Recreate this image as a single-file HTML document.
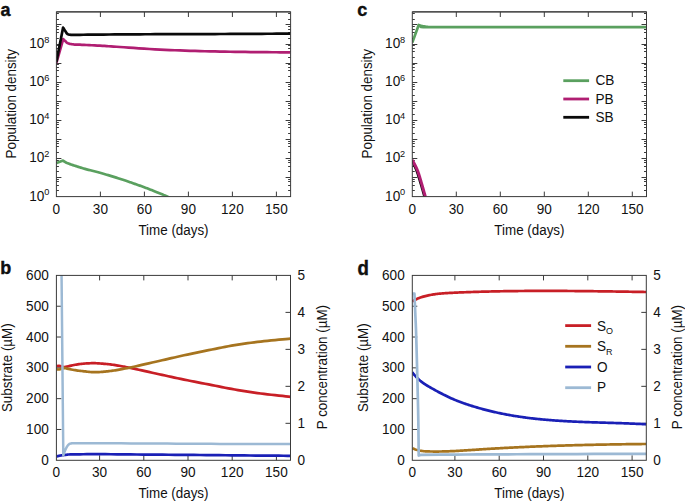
<!DOCTYPE html>
<html><head><meta charset="utf-8"><style>
html,body{margin:0;padding:0;background:#fff;}
body{width:685px;height:501px;overflow:hidden;}
svg{display:block;}
text{font-family:"Liberation Sans", sans-serif;fill:#111;}
</style></head><body>
<svg width="685" height="501" viewBox="0 0 685 501">
<rect width="685" height="501" fill="#fff"/>
<defs>
<clipPath id="clipa"><rect x="56.4" y="12" width="234.2" height="184.6"/></clipPath>
<clipPath id="clipc"><rect x="412.3" y="12" width="234.2" height="184.6"/></clipPath>
<clipPath id="clipb"><rect x="56.4" y="275.4" width="234.1" height="184.9"/></clipPath>
<clipPath id="clipd"><rect x="412.3" y="275.4" width="234" height="184.9"/></clipPath>
</defs>
<text transform="translate(56.4,213.5) scale(1,1.05)" font-size="13.6" text-anchor="middle">0</text>
<line x1="100.4" y1="196.6" x2="100.4" y2="191.6" stroke="#3a3a3a" stroke-width="1"/>
<line x1="100.4" y1="12" x2="100.4" y2="17" stroke="#3a3a3a" stroke-width="1"/>
<text transform="translate(100.4,213.5) scale(1,1.05)" font-size="13.6" text-anchor="middle">30</text>
<line x1="144.4" y1="196.6" x2="144.4" y2="191.6" stroke="#3a3a3a" stroke-width="1"/>
<line x1="144.4" y1="12" x2="144.4" y2="17" stroke="#3a3a3a" stroke-width="1"/>
<text transform="translate(144.4,213.5) scale(1,1.05)" font-size="13.6" text-anchor="middle">60</text>
<line x1="188.4" y1="196.6" x2="188.4" y2="191.6" stroke="#3a3a3a" stroke-width="1"/>
<line x1="188.4" y1="12" x2="188.4" y2="17" stroke="#3a3a3a" stroke-width="1"/>
<text transform="translate(188.4,213.5) scale(1,1.05)" font-size="13.6" text-anchor="middle">90</text>
<line x1="232.4" y1="196.6" x2="232.4" y2="191.6" stroke="#3a3a3a" stroke-width="1"/>
<line x1="232.4" y1="12" x2="232.4" y2="17" stroke="#3a3a3a" stroke-width="1"/>
<text transform="translate(232.4,213.5) scale(1,1.05)" font-size="13.6" text-anchor="middle">120</text>
<line x1="276.4" y1="196.6" x2="276.4" y2="191.6" stroke="#3a3a3a" stroke-width="1"/>
<line x1="276.4" y1="12" x2="276.4" y2="17" stroke="#3a3a3a" stroke-width="1"/>
<text transform="translate(276.4,213.5) scale(1,1.05)" font-size="13.6" text-anchor="middle">150</text>
<text transform="translate(173.5,234.5) scale(1,1.05)" font-size="13.4" text-anchor="middle">Time (days)</text>
<line x1="56.4" y1="190.5" x2="58.9" y2="190.5" stroke="#3a3a3a" stroke-width="1"/>
<line x1="290.6" y1="190.5" x2="288.1" y2="190.5" stroke="#3a3a3a" stroke-width="1"/>
<line x1="56.4" y1="185.5" x2="58.9" y2="185.5" stroke="#3a3a3a" stroke-width="1"/>
<line x1="290.6" y1="185.5" x2="288.1" y2="185.5" stroke="#3a3a3a" stroke-width="1"/>
<line x1="56.4" y1="181.5" x2="58.9" y2="181.5" stroke="#3a3a3a" stroke-width="1"/>
<line x1="290.6" y1="181.5" x2="288.1" y2="181.5" stroke="#3a3a3a" stroke-width="1"/>
<line x1="56.4" y1="179.5" x2="58.9" y2="179.5" stroke="#3a3a3a" stroke-width="1"/>
<line x1="290.6" y1="179.5" x2="288.1" y2="179.5" stroke="#3a3a3a" stroke-width="1"/>
<text transform="translate(44.3,200.5) scale(1,1.05)" font-size="13.6" text-anchor="end">10</text>
<text transform="translate(44.2,195.1) scale(1,1.05)" font-size="9.2" text-anchor="start">0</text>
<line x1="56.4" y1="177.5" x2="61.4" y2="177.5" stroke="#3a3a3a" stroke-width="1"/>
<line x1="290.6" y1="177.5" x2="285.6" y2="177.5" stroke="#3a3a3a" stroke-width="1"/>
<line x1="56.4" y1="171.5" x2="58.9" y2="171.5" stroke="#3a3a3a" stroke-width="1"/>
<line x1="290.6" y1="171.5" x2="288.1" y2="171.5" stroke="#3a3a3a" stroke-width="1"/>
<line x1="56.4" y1="166.5" x2="58.9" y2="166.5" stroke="#3a3a3a" stroke-width="1"/>
<line x1="290.6" y1="166.5" x2="288.1" y2="166.5" stroke="#3a3a3a" stroke-width="1"/>
<line x1="56.4" y1="162.5" x2="58.9" y2="162.5" stroke="#3a3a3a" stroke-width="1"/>
<line x1="290.6" y1="162.5" x2="288.1" y2="162.5" stroke="#3a3a3a" stroke-width="1"/>
<line x1="56.4" y1="160.5" x2="58.9" y2="160.5" stroke="#3a3a3a" stroke-width="1"/>
<line x1="290.6" y1="160.5" x2="288.1" y2="160.5" stroke="#3a3a3a" stroke-width="1"/>
<line x1="56.4" y1="158.5" x2="61.4" y2="158.5" stroke="#3a3a3a" stroke-width="1"/>
<line x1="290.6" y1="158.5" x2="285.6" y2="158.5" stroke="#3a3a3a" stroke-width="1"/>
<line x1="56.4" y1="152.5" x2="58.9" y2="152.5" stroke="#3a3a3a" stroke-width="1"/>
<line x1="290.6" y1="152.5" x2="288.1" y2="152.5" stroke="#3a3a3a" stroke-width="1"/>
<line x1="56.4" y1="146.5" x2="58.9" y2="146.5" stroke="#3a3a3a" stroke-width="1"/>
<line x1="290.6" y1="146.5" x2="288.1" y2="146.5" stroke="#3a3a3a" stroke-width="1"/>
<line x1="56.4" y1="143.5" x2="58.9" y2="143.5" stroke="#3a3a3a" stroke-width="1"/>
<line x1="290.6" y1="143.5" x2="288.1" y2="143.5" stroke="#3a3a3a" stroke-width="1"/>
<line x1="56.4" y1="141.5" x2="58.9" y2="141.5" stroke="#3a3a3a" stroke-width="1"/>
<line x1="290.6" y1="141.5" x2="288.1" y2="141.5" stroke="#3a3a3a" stroke-width="1"/>
<text transform="translate(44.3,162.36) scale(1,1.05)" font-size="13.6" text-anchor="end">10</text>
<text transform="translate(44.2,156.96) scale(1,1.05)" font-size="9.2" text-anchor="start">2</text>
<line x1="56.4" y1="139.5" x2="61.4" y2="139.5" stroke="#3a3a3a" stroke-width="1"/>
<line x1="290.6" y1="139.5" x2="285.6" y2="139.5" stroke="#3a3a3a" stroke-width="1"/>
<line x1="56.4" y1="133.5" x2="58.9" y2="133.5" stroke="#3a3a3a" stroke-width="1"/>
<line x1="290.6" y1="133.5" x2="288.1" y2="133.5" stroke="#3a3a3a" stroke-width="1"/>
<line x1="56.4" y1="127.5" x2="58.9" y2="127.5" stroke="#3a3a3a" stroke-width="1"/>
<line x1="290.6" y1="127.5" x2="288.1" y2="127.5" stroke="#3a3a3a" stroke-width="1"/>
<line x1="56.4" y1="124.5" x2="58.9" y2="124.5" stroke="#3a3a3a" stroke-width="1"/>
<line x1="290.6" y1="124.5" x2="288.1" y2="124.5" stroke="#3a3a3a" stroke-width="1"/>
<line x1="56.4" y1="122.5" x2="58.9" y2="122.5" stroke="#3a3a3a" stroke-width="1"/>
<line x1="290.6" y1="122.5" x2="288.1" y2="122.5" stroke="#3a3a3a" stroke-width="1"/>
<line x1="56.4" y1="120.5" x2="61.4" y2="120.5" stroke="#3a3a3a" stroke-width="1"/>
<line x1="290.6" y1="120.5" x2="285.6" y2="120.5" stroke="#3a3a3a" stroke-width="1"/>
<line x1="56.4" y1="114.5" x2="58.9" y2="114.5" stroke="#3a3a3a" stroke-width="1"/>
<line x1="290.6" y1="114.5" x2="288.1" y2="114.5" stroke="#3a3a3a" stroke-width="1"/>
<line x1="56.4" y1="108.5" x2="58.9" y2="108.5" stroke="#3a3a3a" stroke-width="1"/>
<line x1="290.6" y1="108.5" x2="288.1" y2="108.5" stroke="#3a3a3a" stroke-width="1"/>
<line x1="56.4" y1="105.5" x2="58.9" y2="105.5" stroke="#3a3a3a" stroke-width="1"/>
<line x1="290.6" y1="105.5" x2="288.1" y2="105.5" stroke="#3a3a3a" stroke-width="1"/>
<line x1="56.4" y1="103.5" x2="58.9" y2="103.5" stroke="#3a3a3a" stroke-width="1"/>
<line x1="290.6" y1="103.5" x2="288.1" y2="103.5" stroke="#3a3a3a" stroke-width="1"/>
<text transform="translate(44.3,124.22) scale(1,1.05)" font-size="13.6" text-anchor="end">10</text>
<text transform="translate(44.2,118.82) scale(1,1.05)" font-size="9.2" text-anchor="start">4</text>
<line x1="56.4" y1="101.5" x2="61.4" y2="101.5" stroke="#3a3a3a" stroke-width="1"/>
<line x1="290.6" y1="101.5" x2="285.6" y2="101.5" stroke="#3a3a3a" stroke-width="1"/>
<line x1="56.4" y1="95.5" x2="58.9" y2="95.5" stroke="#3a3a3a" stroke-width="1"/>
<line x1="290.6" y1="95.5" x2="288.1" y2="95.5" stroke="#3a3a3a" stroke-width="1"/>
<line x1="56.4" y1="89.5" x2="58.9" y2="89.5" stroke="#3a3a3a" stroke-width="1"/>
<line x1="290.6" y1="89.5" x2="288.1" y2="89.5" stroke="#3a3a3a" stroke-width="1"/>
<line x1="56.4" y1="86.5" x2="58.9" y2="86.5" stroke="#3a3a3a" stroke-width="1"/>
<line x1="290.6" y1="86.5" x2="288.1" y2="86.5" stroke="#3a3a3a" stroke-width="1"/>
<line x1="56.4" y1="84.5" x2="58.9" y2="84.5" stroke="#3a3a3a" stroke-width="1"/>
<line x1="290.6" y1="84.5" x2="288.1" y2="84.5" stroke="#3a3a3a" stroke-width="1"/>
<line x1="56.4" y1="82.5" x2="61.4" y2="82.5" stroke="#3a3a3a" stroke-width="1"/>
<line x1="290.6" y1="82.5" x2="285.6" y2="82.5" stroke="#3a3a3a" stroke-width="1"/>
<line x1="56.4" y1="76.5" x2="58.9" y2="76.5" stroke="#3a3a3a" stroke-width="1"/>
<line x1="290.6" y1="76.5" x2="288.1" y2="76.5" stroke="#3a3a3a" stroke-width="1"/>
<line x1="56.4" y1="70.5" x2="58.9" y2="70.5" stroke="#3a3a3a" stroke-width="1"/>
<line x1="290.6" y1="70.5" x2="288.1" y2="70.5" stroke="#3a3a3a" stroke-width="1"/>
<line x1="56.4" y1="67.5" x2="58.9" y2="67.5" stroke="#3a3a3a" stroke-width="1"/>
<line x1="290.6" y1="67.5" x2="288.1" y2="67.5" stroke="#3a3a3a" stroke-width="1"/>
<line x1="56.4" y1="64.5" x2="58.9" y2="64.5" stroke="#3a3a3a" stroke-width="1"/>
<line x1="290.6" y1="64.5" x2="288.1" y2="64.5" stroke="#3a3a3a" stroke-width="1"/>
<text transform="translate(44.3,86.08) scale(1,1.05)" font-size="13.6" text-anchor="end">10</text>
<text transform="translate(44.2,80.68) scale(1,1.05)" font-size="9.2" text-anchor="start">6</text>
<line x1="56.4" y1="63.5" x2="61.4" y2="63.5" stroke="#3a3a3a" stroke-width="1"/>
<line x1="290.6" y1="63.5" x2="285.6" y2="63.5" stroke="#3a3a3a" stroke-width="1"/>
<line x1="56.4" y1="57.5" x2="58.9" y2="57.5" stroke="#3a3a3a" stroke-width="1"/>
<line x1="290.6" y1="57.5" x2="288.1" y2="57.5" stroke="#3a3a3a" stroke-width="1"/>
<line x1="56.4" y1="51.5" x2="58.9" y2="51.5" stroke="#3a3a3a" stroke-width="1"/>
<line x1="290.6" y1="51.5" x2="288.1" y2="51.5" stroke="#3a3a3a" stroke-width="1"/>
<line x1="56.4" y1="48.5" x2="58.9" y2="48.5" stroke="#3a3a3a" stroke-width="1"/>
<line x1="290.6" y1="48.5" x2="288.1" y2="48.5" stroke="#3a3a3a" stroke-width="1"/>
<line x1="56.4" y1="45.5" x2="58.9" y2="45.5" stroke="#3a3a3a" stroke-width="1"/>
<line x1="290.6" y1="45.5" x2="288.1" y2="45.5" stroke="#3a3a3a" stroke-width="1"/>
<line x1="56.4" y1="44.5" x2="61.4" y2="44.5" stroke="#3a3a3a" stroke-width="1"/>
<line x1="290.6" y1="44.5" x2="285.6" y2="44.5" stroke="#3a3a3a" stroke-width="1"/>
<line x1="56.4" y1="38.5" x2="58.9" y2="38.5" stroke="#3a3a3a" stroke-width="1"/>
<line x1="290.6" y1="38.5" x2="288.1" y2="38.5" stroke="#3a3a3a" stroke-width="1"/>
<line x1="56.4" y1="32.5" x2="58.9" y2="32.5" stroke="#3a3a3a" stroke-width="1"/>
<line x1="290.6" y1="32.5" x2="288.1" y2="32.5" stroke="#3a3a3a" stroke-width="1"/>
<line x1="56.4" y1="29.5" x2="58.9" y2="29.5" stroke="#3a3a3a" stroke-width="1"/>
<line x1="290.6" y1="29.5" x2="288.1" y2="29.5" stroke="#3a3a3a" stroke-width="1"/>
<line x1="56.4" y1="26.5" x2="58.9" y2="26.5" stroke="#3a3a3a" stroke-width="1"/>
<line x1="290.6" y1="26.5" x2="288.1" y2="26.5" stroke="#3a3a3a" stroke-width="1"/>
<text transform="translate(44.3,47.94) scale(1,1.05)" font-size="13.6" text-anchor="end">10</text>
<text transform="translate(44.2,42.54) scale(1,1.05)" font-size="9.2" text-anchor="start">8</text>
<line x1="56.4" y1="24.5" x2="61.4" y2="24.5" stroke="#3a3a3a" stroke-width="1"/>
<line x1="290.6" y1="24.5" x2="285.6" y2="24.5" stroke="#3a3a3a" stroke-width="1"/>
<line x1="56.4" y1="19.5" x2="58.9" y2="19.5" stroke="#3a3a3a" stroke-width="1"/>
<line x1="290.6" y1="19.5" x2="288.1" y2="19.5" stroke="#3a3a3a" stroke-width="1"/>
<line x1="56.4" y1="13.5" x2="58.9" y2="13.5" stroke="#3a3a3a" stroke-width="1"/>
<line x1="290.6" y1="13.5" x2="288.1" y2="13.5" stroke="#3a3a3a" stroke-width="1"/>
<path d="M56.6,163 L63,160.5 L63,160.5 L63.19,160.64 L63.45,160.82 L63.76,161.04 L64.11,161.28 L64.47,161.53 L64.83,161.78 L65.18,162 L65.5,162.2 L65.76,162.36 L65.97,162.48 L66.16,162.59 L66.36,162.7 L66.59,162.81 L66.89,162.94 L67.28,163.1 L67.8,163.3 L68.45,163.54 L69.19,163.81 L70.02,164.11 L70.92,164.43 L71.88,164.76 L72.89,165.1 L73.93,165.45 L75,165.8 L76.08,166.15 L77.19,166.51 L78.33,166.88 L79.51,167.26 L80.76,167.65 L82.08,168.05 L83.49,168.47 L85,168.9 L86.65,169.35 L88.45,169.82 L90.35,170.31 L92.31,170.81 L94.3,171.31 L96.27,171.81 L98.19,172.31 L100,172.8 L101.72,173.28 L103.39,173.75 L105.02,174.21 L106.62,174.68 L108.21,175.15 L109.8,175.62 L111.39,176.11 L113,176.6 L114.65,177.11 L116.32,177.64 L118.01,178.18 L119.69,178.72 L121.34,179.26 L122.96,179.79 L124.52,180.31 L126,180.8 L127.39,181.27 L128.71,181.72 L129.97,182.16 L131.19,182.59 L132.38,183.01 L133.57,183.43 L134.77,183.86 L136,184.3 L137.26,184.75 L138.52,185.19 L139.79,185.64 L141.06,186.09 L142.32,186.55 L143.57,187 L144.8,187.45 L146,187.9 L147.17,188.35 L148.3,188.79 L149.4,189.23 L150.5,189.67 L151.6,190.11 L152.7,190.56 L153.83,191.03 L155,191.5 L156.22,191.99 L157.5,192.51 L158.81,193.03 L160.12,193.56 L161.43,194.09 L162.69,194.61 L163.89,195.12 L165,195.6 L166.07,196.08 L167.12,196.58 L168.15,197.08 L169.12,197.56 L170.02,198 L170.81,198.41 L171.48,198.74 L172,199" fill="none" stroke="#5aa05f" stroke-width="2.7" stroke-linejoin="round" stroke-linecap="butt" clip-path="url(#clipa)"/>
<path d="M56.4,63 L63.2,39.1 L63.2,39.1 L63.4,39.3 L63.68,39.57 L64,39.89 L64.36,40.24 L64.74,40.61 L65.12,40.97 L65.48,41.31 L65.8,41.6 L66.07,41.85 L66.29,42.09 L66.49,42.32 L66.69,42.53 L66.91,42.73 L67.19,42.93 L67.55,43.12 L68,43.3 L68.57,43.48 L69.23,43.66 L69.97,43.83 L70.76,43.99 L71.58,44.15 L72.41,44.28 L73.22,44.4 L74,44.5 L74.65,44.57 L75.17,44.6 L75.63,44.61 L76.12,44.61 L76.72,44.61 L77.52,44.62 L78.58,44.64 L80,44.7 L81.83,44.78 L84.02,44.89 L86.47,45 L89.12,45.13 L91.88,45.27 L94.67,45.41 L97.4,45.56 L100,45.7 L102.36,45.84 L104.53,45.97 L106.62,46.11 L108.75,46.25 L111.04,46.4 L113.59,46.58 L116.54,46.77 L120,47 L124.04,47.27 L128.59,47.58 L133.54,47.93 L138.75,48.29 L144.12,48.65 L149.53,49 L154.86,49.32 L160,49.6 L165,49.84 L170,50.07 L175,50.27 L180,50.46 L185,50.64 L190,50.8 L195,50.95 L200,51.1 L205,51.24 L210,51.36 L215,51.47 L220,51.57 L225,51.66 L230,51.74 L235,51.82 L240,51.9 L245.2,51.97 L250.69,52.04 L256.29,52.09 L261.84,52.14 L267.15,52.19 L272.07,52.23 L276.41,52.27 L280,52.3 L282.8,52.33 L284.97,52.35 L286.59,52.36 L287.8,52.37 L288.69,52.38 L289.38,52.39 L289.98,52.39 L290.6,52.4" fill="none" stroke="#b01e72" stroke-width="2.7" stroke-linejoin="round" stroke-linecap="butt" clip-path="url(#clipa)"/>
<path d="M56.4,62 L63.1,27.6 L63.1,27.6 L63.29,27.91 L63.55,28.33 L63.86,28.83 L64.2,29.38 L64.56,29.95 L64.92,30.51 L65.28,31.04 L65.6,31.5 L65.88,31.92 L66.12,32.33 L66.35,32.73 L66.58,33.11 L66.84,33.46 L67.15,33.78 L67.53,34.06 L68,34.3 L68.58,34.49 L69.25,34.62 L69.99,34.72 L70.78,34.78 L71.59,34.82 L72.42,34.85 L73.23,34.87 L74,34.9 L74.52,34.92 L74.7,34.93 L74.76,34.93 L74.88,34.91 L75.26,34.89 L76.11,34.86 L77.62,34.83 L80,34.8 L83.37,34.76 L87.61,34.72 L92.51,34.66 L97.88,34.61 L103.51,34.55 L109.2,34.49 L114.77,34.44 L120,34.4 L125,34.36 L130,34.33 L135,34.31 L140,34.28 L145,34.26 L150,34.24 L155,34.22 L160,34.2 L165,34.18 L170,34.17 L175,34.16 L180,34.15 L185,34.14 L190,34.13 L195,34.12 L200,34.1 L205,34.08 L210,34.06 L215,34.03 L220,34.01 L225,33.98 L230,33.95 L235,33.93 L240,33.9 L245.2,33.87 L250.69,33.85 L256.29,33.82 L261.84,33.79 L267.15,33.77 L272.07,33.74 L276.41,33.72 L280,33.7 L282.8,33.68 L284.97,33.67 L286.59,33.65 L287.8,33.64 L288.69,33.63 L289.38,33.62 L289.98,33.61 L290.6,33.6" fill="none" stroke="#0a0a0a" stroke-width="2.7" stroke-linejoin="round" stroke-linecap="butt" clip-path="url(#clipa)"/>
<rect x="56.4" y="12" width="234.2" height="184.6" fill="none" stroke="#3a3a3a" stroke-width="1"/>
<line x1="56.4" y1="11.8" x2="290.6" y2="11.8" stroke="#3a3a3a" stroke-width="1.1"/>
<text transform="translate(412.3,213.5) scale(1,1.05)" font-size="13.6" text-anchor="middle">0</text>
<line x1="456.3" y1="196.6" x2="456.3" y2="191.6" stroke="#3a3a3a" stroke-width="1"/>
<line x1="456.3" y1="12" x2="456.3" y2="17" stroke="#3a3a3a" stroke-width="1"/>
<text transform="translate(456.3,213.5) scale(1,1.05)" font-size="13.6" text-anchor="middle">30</text>
<line x1="500.3" y1="196.6" x2="500.3" y2="191.6" stroke="#3a3a3a" stroke-width="1"/>
<line x1="500.3" y1="12" x2="500.3" y2="17" stroke="#3a3a3a" stroke-width="1"/>
<text transform="translate(500.3,213.5) scale(1,1.05)" font-size="13.6" text-anchor="middle">60</text>
<line x1="544.3" y1="196.6" x2="544.3" y2="191.6" stroke="#3a3a3a" stroke-width="1"/>
<line x1="544.3" y1="12" x2="544.3" y2="17" stroke="#3a3a3a" stroke-width="1"/>
<text transform="translate(544.3,213.5) scale(1,1.05)" font-size="13.6" text-anchor="middle">90</text>
<line x1="588.3" y1="196.6" x2="588.3" y2="191.6" stroke="#3a3a3a" stroke-width="1"/>
<line x1="588.3" y1="12" x2="588.3" y2="17" stroke="#3a3a3a" stroke-width="1"/>
<text transform="translate(588.3,213.5) scale(1,1.05)" font-size="13.6" text-anchor="middle">120</text>
<line x1="632.3" y1="196.6" x2="632.3" y2="191.6" stroke="#3a3a3a" stroke-width="1"/>
<line x1="632.3" y1="12" x2="632.3" y2="17" stroke="#3a3a3a" stroke-width="1"/>
<text transform="translate(632.3,213.5) scale(1,1.05)" font-size="13.6" text-anchor="middle">150</text>
<text transform="translate(529.4,234.5) scale(1,1.05)" font-size="13.4" text-anchor="middle">Time (days)</text>
<line x1="412.3" y1="190.5" x2="414.8" y2="190.5" stroke="#3a3a3a" stroke-width="1"/>
<line x1="646.5" y1="190.5" x2="644" y2="190.5" stroke="#3a3a3a" stroke-width="1"/>
<line x1="412.3" y1="185.5" x2="414.8" y2="185.5" stroke="#3a3a3a" stroke-width="1"/>
<line x1="646.5" y1="185.5" x2="644" y2="185.5" stroke="#3a3a3a" stroke-width="1"/>
<line x1="412.3" y1="181.5" x2="414.8" y2="181.5" stroke="#3a3a3a" stroke-width="1"/>
<line x1="646.5" y1="181.5" x2="644" y2="181.5" stroke="#3a3a3a" stroke-width="1"/>
<line x1="412.3" y1="179.5" x2="414.8" y2="179.5" stroke="#3a3a3a" stroke-width="1"/>
<line x1="646.5" y1="179.5" x2="644" y2="179.5" stroke="#3a3a3a" stroke-width="1"/>
<text transform="translate(400.2,200.5) scale(1,1.05)" font-size="13.6" text-anchor="end">10</text>
<text transform="translate(400.1,195.1) scale(1,1.05)" font-size="9.2" text-anchor="start">0</text>
<line x1="412.3" y1="177.5" x2="417.3" y2="177.5" stroke="#3a3a3a" stroke-width="1"/>
<line x1="646.5" y1="177.5" x2="641.5" y2="177.5" stroke="#3a3a3a" stroke-width="1"/>
<line x1="412.3" y1="171.5" x2="414.8" y2="171.5" stroke="#3a3a3a" stroke-width="1"/>
<line x1="646.5" y1="171.5" x2="644" y2="171.5" stroke="#3a3a3a" stroke-width="1"/>
<line x1="412.3" y1="166.5" x2="414.8" y2="166.5" stroke="#3a3a3a" stroke-width="1"/>
<line x1="646.5" y1="166.5" x2="644" y2="166.5" stroke="#3a3a3a" stroke-width="1"/>
<line x1="412.3" y1="162.5" x2="414.8" y2="162.5" stroke="#3a3a3a" stroke-width="1"/>
<line x1="646.5" y1="162.5" x2="644" y2="162.5" stroke="#3a3a3a" stroke-width="1"/>
<line x1="412.3" y1="160.5" x2="414.8" y2="160.5" stroke="#3a3a3a" stroke-width="1"/>
<line x1="646.5" y1="160.5" x2="644" y2="160.5" stroke="#3a3a3a" stroke-width="1"/>
<line x1="412.3" y1="158.5" x2="417.3" y2="158.5" stroke="#3a3a3a" stroke-width="1"/>
<line x1="646.5" y1="158.5" x2="641.5" y2="158.5" stroke="#3a3a3a" stroke-width="1"/>
<line x1="412.3" y1="152.5" x2="414.8" y2="152.5" stroke="#3a3a3a" stroke-width="1"/>
<line x1="646.5" y1="152.5" x2="644" y2="152.5" stroke="#3a3a3a" stroke-width="1"/>
<line x1="412.3" y1="146.5" x2="414.8" y2="146.5" stroke="#3a3a3a" stroke-width="1"/>
<line x1="646.5" y1="146.5" x2="644" y2="146.5" stroke="#3a3a3a" stroke-width="1"/>
<line x1="412.3" y1="143.5" x2="414.8" y2="143.5" stroke="#3a3a3a" stroke-width="1"/>
<line x1="646.5" y1="143.5" x2="644" y2="143.5" stroke="#3a3a3a" stroke-width="1"/>
<line x1="412.3" y1="141.5" x2="414.8" y2="141.5" stroke="#3a3a3a" stroke-width="1"/>
<line x1="646.5" y1="141.5" x2="644" y2="141.5" stroke="#3a3a3a" stroke-width="1"/>
<text transform="translate(400.2,162.36) scale(1,1.05)" font-size="13.6" text-anchor="end">10</text>
<text transform="translate(400.1,156.96) scale(1,1.05)" font-size="9.2" text-anchor="start">2</text>
<line x1="412.3" y1="139.5" x2="417.3" y2="139.5" stroke="#3a3a3a" stroke-width="1"/>
<line x1="646.5" y1="139.5" x2="641.5" y2="139.5" stroke="#3a3a3a" stroke-width="1"/>
<line x1="412.3" y1="133.5" x2="414.8" y2="133.5" stroke="#3a3a3a" stroke-width="1"/>
<line x1="646.5" y1="133.5" x2="644" y2="133.5" stroke="#3a3a3a" stroke-width="1"/>
<line x1="412.3" y1="127.5" x2="414.8" y2="127.5" stroke="#3a3a3a" stroke-width="1"/>
<line x1="646.5" y1="127.5" x2="644" y2="127.5" stroke="#3a3a3a" stroke-width="1"/>
<line x1="412.3" y1="124.5" x2="414.8" y2="124.5" stroke="#3a3a3a" stroke-width="1"/>
<line x1="646.5" y1="124.5" x2="644" y2="124.5" stroke="#3a3a3a" stroke-width="1"/>
<line x1="412.3" y1="122.5" x2="414.8" y2="122.5" stroke="#3a3a3a" stroke-width="1"/>
<line x1="646.5" y1="122.5" x2="644" y2="122.5" stroke="#3a3a3a" stroke-width="1"/>
<line x1="412.3" y1="120.5" x2="417.3" y2="120.5" stroke="#3a3a3a" stroke-width="1"/>
<line x1="646.5" y1="120.5" x2="641.5" y2="120.5" stroke="#3a3a3a" stroke-width="1"/>
<line x1="412.3" y1="114.5" x2="414.8" y2="114.5" stroke="#3a3a3a" stroke-width="1"/>
<line x1="646.5" y1="114.5" x2="644" y2="114.5" stroke="#3a3a3a" stroke-width="1"/>
<line x1="412.3" y1="108.5" x2="414.8" y2="108.5" stroke="#3a3a3a" stroke-width="1"/>
<line x1="646.5" y1="108.5" x2="644" y2="108.5" stroke="#3a3a3a" stroke-width="1"/>
<line x1="412.3" y1="105.5" x2="414.8" y2="105.5" stroke="#3a3a3a" stroke-width="1"/>
<line x1="646.5" y1="105.5" x2="644" y2="105.5" stroke="#3a3a3a" stroke-width="1"/>
<line x1="412.3" y1="103.5" x2="414.8" y2="103.5" stroke="#3a3a3a" stroke-width="1"/>
<line x1="646.5" y1="103.5" x2="644" y2="103.5" stroke="#3a3a3a" stroke-width="1"/>
<text transform="translate(400.2,124.22) scale(1,1.05)" font-size="13.6" text-anchor="end">10</text>
<text transform="translate(400.1,118.82) scale(1,1.05)" font-size="9.2" text-anchor="start">4</text>
<line x1="412.3" y1="101.5" x2="417.3" y2="101.5" stroke="#3a3a3a" stroke-width="1"/>
<line x1="646.5" y1="101.5" x2="641.5" y2="101.5" stroke="#3a3a3a" stroke-width="1"/>
<line x1="412.3" y1="95.5" x2="414.8" y2="95.5" stroke="#3a3a3a" stroke-width="1"/>
<line x1="646.5" y1="95.5" x2="644" y2="95.5" stroke="#3a3a3a" stroke-width="1"/>
<line x1="412.3" y1="89.5" x2="414.8" y2="89.5" stroke="#3a3a3a" stroke-width="1"/>
<line x1="646.5" y1="89.5" x2="644" y2="89.5" stroke="#3a3a3a" stroke-width="1"/>
<line x1="412.3" y1="86.5" x2="414.8" y2="86.5" stroke="#3a3a3a" stroke-width="1"/>
<line x1="646.5" y1="86.5" x2="644" y2="86.5" stroke="#3a3a3a" stroke-width="1"/>
<line x1="412.3" y1="84.5" x2="414.8" y2="84.5" stroke="#3a3a3a" stroke-width="1"/>
<line x1="646.5" y1="84.5" x2="644" y2="84.5" stroke="#3a3a3a" stroke-width="1"/>
<line x1="412.3" y1="82.5" x2="417.3" y2="82.5" stroke="#3a3a3a" stroke-width="1"/>
<line x1="646.5" y1="82.5" x2="641.5" y2="82.5" stroke="#3a3a3a" stroke-width="1"/>
<line x1="412.3" y1="76.5" x2="414.8" y2="76.5" stroke="#3a3a3a" stroke-width="1"/>
<line x1="646.5" y1="76.5" x2="644" y2="76.5" stroke="#3a3a3a" stroke-width="1"/>
<line x1="412.3" y1="70.5" x2="414.8" y2="70.5" stroke="#3a3a3a" stroke-width="1"/>
<line x1="646.5" y1="70.5" x2="644" y2="70.5" stroke="#3a3a3a" stroke-width="1"/>
<line x1="412.3" y1="67.5" x2="414.8" y2="67.5" stroke="#3a3a3a" stroke-width="1"/>
<line x1="646.5" y1="67.5" x2="644" y2="67.5" stroke="#3a3a3a" stroke-width="1"/>
<line x1="412.3" y1="64.5" x2="414.8" y2="64.5" stroke="#3a3a3a" stroke-width="1"/>
<line x1="646.5" y1="64.5" x2="644" y2="64.5" stroke="#3a3a3a" stroke-width="1"/>
<text transform="translate(400.2,86.08) scale(1,1.05)" font-size="13.6" text-anchor="end">10</text>
<text transform="translate(400.1,80.68) scale(1,1.05)" font-size="9.2" text-anchor="start">6</text>
<line x1="412.3" y1="63.5" x2="417.3" y2="63.5" stroke="#3a3a3a" stroke-width="1"/>
<line x1="646.5" y1="63.5" x2="641.5" y2="63.5" stroke="#3a3a3a" stroke-width="1"/>
<line x1="412.3" y1="57.5" x2="414.8" y2="57.5" stroke="#3a3a3a" stroke-width="1"/>
<line x1="646.5" y1="57.5" x2="644" y2="57.5" stroke="#3a3a3a" stroke-width="1"/>
<line x1="412.3" y1="51.5" x2="414.8" y2="51.5" stroke="#3a3a3a" stroke-width="1"/>
<line x1="646.5" y1="51.5" x2="644" y2="51.5" stroke="#3a3a3a" stroke-width="1"/>
<line x1="412.3" y1="48.5" x2="414.8" y2="48.5" stroke="#3a3a3a" stroke-width="1"/>
<line x1="646.5" y1="48.5" x2="644" y2="48.5" stroke="#3a3a3a" stroke-width="1"/>
<line x1="412.3" y1="45.5" x2="414.8" y2="45.5" stroke="#3a3a3a" stroke-width="1"/>
<line x1="646.5" y1="45.5" x2="644" y2="45.5" stroke="#3a3a3a" stroke-width="1"/>
<line x1="412.3" y1="44.5" x2="417.3" y2="44.5" stroke="#3a3a3a" stroke-width="1"/>
<line x1="646.5" y1="44.5" x2="641.5" y2="44.5" stroke="#3a3a3a" stroke-width="1"/>
<line x1="412.3" y1="38.5" x2="414.8" y2="38.5" stroke="#3a3a3a" stroke-width="1"/>
<line x1="646.5" y1="38.5" x2="644" y2="38.5" stroke="#3a3a3a" stroke-width="1"/>
<line x1="412.3" y1="32.5" x2="414.8" y2="32.5" stroke="#3a3a3a" stroke-width="1"/>
<line x1="646.5" y1="32.5" x2="644" y2="32.5" stroke="#3a3a3a" stroke-width="1"/>
<line x1="412.3" y1="29.5" x2="414.8" y2="29.5" stroke="#3a3a3a" stroke-width="1"/>
<line x1="646.5" y1="29.5" x2="644" y2="29.5" stroke="#3a3a3a" stroke-width="1"/>
<line x1="412.3" y1="26.5" x2="414.8" y2="26.5" stroke="#3a3a3a" stroke-width="1"/>
<line x1="646.5" y1="26.5" x2="644" y2="26.5" stroke="#3a3a3a" stroke-width="1"/>
<text transform="translate(400.2,47.94) scale(1,1.05)" font-size="13.6" text-anchor="end">10</text>
<text transform="translate(400.1,42.54) scale(1,1.05)" font-size="9.2" text-anchor="start">8</text>
<line x1="412.3" y1="24.5" x2="417.3" y2="24.5" stroke="#3a3a3a" stroke-width="1"/>
<line x1="646.5" y1="24.5" x2="641.5" y2="24.5" stroke="#3a3a3a" stroke-width="1"/>
<line x1="412.3" y1="19.5" x2="414.8" y2="19.5" stroke="#3a3a3a" stroke-width="1"/>
<line x1="646.5" y1="19.5" x2="644" y2="19.5" stroke="#3a3a3a" stroke-width="1"/>
<line x1="412.3" y1="13.5" x2="414.8" y2="13.5" stroke="#3a3a3a" stroke-width="1"/>
<line x1="646.5" y1="13.5" x2="644" y2="13.5" stroke="#3a3a3a" stroke-width="1"/>
<path d="M412.3,42.6 L418.7,25 L418.7,25 L418.94,25.08 L419.24,25.18 L419.6,25.31 L420.01,25.45 L420.46,25.6 L420.94,25.74 L421.46,25.88 L422,26 L422.53,26.11 L423.06,26.23 L423.59,26.34 L424.18,26.44 L424.83,26.55 L425.58,26.64 L426.46,26.73 L427.5,26.8 L427.4,26.86 L425.59,26.91 L423.15,26.96 L421.19,26.99 L420.8,27.02 L423.07,27.05 L429.11,27.08 L440,27.1 L457.94,27.12 L482.82,27.14 L512.3,27.16 L544.03,27.17 L575.66,27.18 L604.85,27.19 L629.24,27.19 L646.5,27.2" fill="none" stroke="#5aa05f" stroke-width="2.7" stroke-linejoin="round" stroke-linecap="butt" clip-path="url(#clipc)"/>
<path d="M412.3,161 L412.64,161.73 L413.09,162.68 L413.64,163.82 L414.24,165.09 L414.86,166.45 L415.49,167.83 L416.08,169.2 L416.6,170.5 L417.07,171.77 L417.53,173.08 L417.97,174.41 L418.39,175.75 L418.81,177.09 L419.21,178.42 L419.61,179.73 L420,181 L420.38,182.25 L420.76,183.49 L421.12,184.72 L421.48,185.94 L421.83,187.13 L422.16,188.29 L422.49,189.42 L422.8,190.5 L423.1,191.56 L423.4,192.6 L423.7,193.61 L423.98,194.59 L424.24,195.53 L424.48,196.42 L424.7,197.24 L424.9,198 L425.07,198.69 L425.21,199.34 L425.33,199.93 L425.43,200.47 L425.52,200.95 L425.59,201.36 L425.65,201.72 L425.7,202" fill="none" stroke="#0a0a0a" stroke-width="2.7" stroke-linejoin="round" stroke-linecap="butt" clip-path="url(#clipc)"/>
<path d="M412.3,159.9 L412.7,160.67 L413.23,161.7 L413.87,162.92 L414.58,164.28 L415.32,165.72 L416.04,167.19 L416.71,168.63 L417.3,170 L417.81,171.32 L418.3,172.68 L418.75,174.05 L419.19,175.42 L419.6,176.8 L420.01,178.16 L420.41,179.5 L420.8,180.8 L421.19,182.08 L421.57,183.35 L421.93,184.61 L422.29,185.86 L422.63,187.07 L422.97,188.26 L423.29,189.4 L423.6,190.5 L423.9,191.57 L424.2,192.61 L424.5,193.63 L424.78,194.61 L425.04,195.54 L425.28,196.42 L425.5,197.25 L425.7,198 L425.87,198.69 L426.01,199.34 L426.13,199.93 L426.23,200.47 L426.32,200.95 L426.39,201.36 L426.45,201.72 L426.5,202" fill="none" stroke="#b01e72" stroke-width="3.0" stroke-linejoin="round" stroke-linecap="butt" clip-path="url(#clipc)"/>
<rect x="412.3" y="12" width="234.2" height="184.6" fill="none" stroke="#3a3a3a" stroke-width="1"/>
<line x1="412.3" y1="11.8" x2="646.5" y2="11.8" stroke="#3a3a3a" stroke-width="1.1"/>
<line x1="563.3" y1="80.7" x2="589.1" y2="80.7" stroke="#5aa05f" stroke-width="2.8"/>
<text transform="translate(595.4,85.3) scale(1,1.05)" font-size="13.6" text-anchor="start">CB</text>
<line x1="563.3" y1="99" x2="589.1" y2="99" stroke="#b01e72" stroke-width="2.8"/>
<text transform="translate(595.4,103.6) scale(1,1.05)" font-size="13.6" text-anchor="start">PB</text>
<line x1="563.3" y1="117.3" x2="589.1" y2="117.3" stroke="#0a0a0a" stroke-width="2.8"/>
<text transform="translate(595.4,121.9) scale(1,1.05)" font-size="13.6" text-anchor="start">SB</text>
<text transform="translate(56.4,476.7) scale(1,1.05)" font-size="13.6" text-anchor="middle">0</text>
<line x1="99.6" y1="460.3" x2="99.6" y2="455.3" stroke="#3a3a3a" stroke-width="1"/>
<line x1="99.6" y1="275.4" x2="99.6" y2="280.4" stroke="#3a3a3a" stroke-width="1"/>
<text transform="translate(99.6,476.7) scale(1,1.05)" font-size="13.6" text-anchor="middle">30</text>
<line x1="143.8" y1="460.3" x2="143.8" y2="455.3" stroke="#3a3a3a" stroke-width="1"/>
<line x1="143.8" y1="275.4" x2="143.8" y2="280.4" stroke="#3a3a3a" stroke-width="1"/>
<text transform="translate(143.8,476.7) scale(1,1.05)" font-size="13.6" text-anchor="middle">60</text>
<line x1="188" y1="460.3" x2="188" y2="455.3" stroke="#3a3a3a" stroke-width="1"/>
<line x1="188" y1="275.4" x2="188" y2="280.4" stroke="#3a3a3a" stroke-width="1"/>
<text transform="translate(188,476.7) scale(1,1.05)" font-size="13.6" text-anchor="middle">90</text>
<line x1="232.2" y1="460.3" x2="232.2" y2="455.3" stroke="#3a3a3a" stroke-width="1"/>
<line x1="232.2" y1="275.4" x2="232.2" y2="280.4" stroke="#3a3a3a" stroke-width="1"/>
<text transform="translate(232.2,476.7) scale(1,1.05)" font-size="13.6" text-anchor="middle">120</text>
<line x1="276.4" y1="460.3" x2="276.4" y2="455.3" stroke="#3a3a3a" stroke-width="1"/>
<line x1="276.4" y1="275.4" x2="276.4" y2="280.4" stroke="#3a3a3a" stroke-width="1"/>
<text transform="translate(276.4,476.7) scale(1,1.05)" font-size="13.6" text-anchor="middle">150</text>
<text transform="translate(173.45,497.7) scale(1,1.05)" font-size="13.4" text-anchor="middle">Time (days)</text>
<text transform="translate(48.8,464.9) scale(1,1.05)" font-size="13.6" text-anchor="end">0</text>
<line x1="56.4" y1="429.48" x2="61.4" y2="429.48" stroke="#3a3a3a" stroke-width="1"/>
<text transform="translate(48.8,434.08) scale(1,1.05)" font-size="13.6" text-anchor="end">100</text>
<line x1="56.4" y1="398.67" x2="61.4" y2="398.67" stroke="#3a3a3a" stroke-width="1"/>
<text transform="translate(48.8,403.27) scale(1,1.05)" font-size="13.6" text-anchor="end">200</text>
<line x1="56.4" y1="367.85" x2="61.4" y2="367.85" stroke="#3a3a3a" stroke-width="1"/>
<text transform="translate(48.8,372.45) scale(1,1.05)" font-size="13.6" text-anchor="end">300</text>
<line x1="56.4" y1="337.03" x2="61.4" y2="337.03" stroke="#3a3a3a" stroke-width="1"/>
<text transform="translate(48.8,341.63) scale(1,1.05)" font-size="13.6" text-anchor="end">400</text>
<line x1="56.4" y1="306.22" x2="61.4" y2="306.22" stroke="#3a3a3a" stroke-width="1"/>
<text transform="translate(48.8,310.82) scale(1,1.05)" font-size="13.6" text-anchor="end">500</text>
<text transform="translate(48.8,280) scale(1,1.05)" font-size="13.6" text-anchor="end">600</text>
<text transform="translate(297.5,464.9) scale(1,1.05)" font-size="13.6" text-anchor="start">0</text>
<line x1="290.5" y1="423.32" x2="285.5" y2="423.32" stroke="#3a3a3a" stroke-width="1"/>
<text transform="translate(297.5,427.92) scale(1,1.05)" font-size="13.6" text-anchor="start">1</text>
<line x1="290.5" y1="386.34" x2="285.5" y2="386.34" stroke="#3a3a3a" stroke-width="1"/>
<text transform="translate(297.5,390.94) scale(1,1.05)" font-size="13.6" text-anchor="start">2</text>
<line x1="290.5" y1="349.36" x2="285.5" y2="349.36" stroke="#3a3a3a" stroke-width="1"/>
<text transform="translate(297.5,353.96) scale(1,1.05)" font-size="13.6" text-anchor="start">3</text>
<line x1="290.5" y1="312.38" x2="285.5" y2="312.38" stroke="#3a3a3a" stroke-width="1"/>
<text transform="translate(297.5,316.98) scale(1,1.05)" font-size="13.6" text-anchor="start">4</text>
<text transform="translate(297.5,280) scale(1,1.05)" font-size="13.6" text-anchor="start">5</text>
<path d="M56.4,456.6 L56.66,456.52 L56.99,456.42 L57.38,456.29 L57.82,456.15 L58.32,456 L58.85,455.86 L59.41,455.72 L60,455.6 L60.64,455.49 L61.33,455.38 L62.07,455.27 L62.85,455.16 L63.64,455.06 L64.44,454.97 L65.23,454.88 L66,454.8 L66.6,454.73 L66.98,454.67 L67.28,454.61 L67.62,454.56 L68.14,454.52 L68.95,454.48 L70.2,454.44 L72,454.4 L74.3,454.36 L76.94,454.32 L79.92,454.28 L83.25,454.25 L86.92,454.22 L90.94,454.2 L95.3,454.19 L100,454.2 L105.2,454.22 L110.95,454.26 L117.14,454.31 L123.62,454.36 L130.28,454.42 L136.98,454.49 L143.6,454.55 L150,454.6 L156.25,454.65 L162.5,454.7 L168.75,454.75 L175,454.79 L181.25,454.84 L187.5,454.89 L193.75,454.95 L200,455 L206.31,455.06 L212.72,455.12 L219.17,455.19 L225.59,455.26 L231.95,455.32 L238.17,455.39 L244.2,455.45 L250,455.5 L255.79,455.55 L261.74,455.6 L267.66,455.64 L273.38,455.68 L278.7,455.72 L283.45,455.75 L287.44,455.78 L290.5,455.8" fill="none" stroke="#1a20b6" stroke-width="2.7" stroke-linejoin="round" stroke-linecap="butt" clip-path="url(#clipb)"/>
<path d="M56.4,366 L59,365.8 L61.5,366.3 L64,367.2 L64,367.3 L64.77,367.12 L65.8,366.87 L67.02,366.57 L68.38,366.24 L69.81,365.9 L71.27,365.57 L72.68,365.26 L74,365 L75.25,364.78 L76.5,364.56 L77.75,364.37 L79,364.18 L80.25,364.01 L81.5,363.86 L82.75,363.72 L84,363.6 L85.25,363.5 L86.5,363.41 L87.75,363.33 L89,363.28 L90.25,363.23 L91.5,363.21 L92.75,363.2 L94,363.2 L95.25,363.22 L96.5,363.27 L97.75,363.33 L99,363.41 L100.25,363.49 L101.5,363.59 L102.75,363.69 L104,363.8 L105.25,363.91 L106.5,364.02 L107.75,364.15 L109,364.28 L110.25,364.41 L111.5,364.56 L112.75,364.73 L114,364.9 L115.28,365.1 L116.59,365.31 L117.93,365.55 L119.25,365.79 L120.54,366.04 L121.78,366.28 L122.94,366.5 L124,366.7 L124.96,366.88 L125.83,367.05 L126.63,367.21 L127.38,367.36 L128.07,367.51 L128.73,367.64 L129.37,367.77 L130,367.9 L130.45,367.99 L130.65,368.02 L130.72,368.02 L130.81,368.03 L131.05,368.07 L131.57,368.18 L132.51,368.38 L134,368.7 L136.12,369.16 L138.77,369.75 L141.84,370.42 L145.19,371.16 L148.7,371.94 L152.26,372.72 L155.73,373.49 L159,374.2 L162.1,374.88 L165.18,375.55 L168.24,376.23 L171.31,376.9 L174.41,377.57 L177.54,378.25 L180.73,378.92 L184,379.6 L187.37,380.29 L190.84,380.98 L194.37,381.68 L197.94,382.38 L201.51,383.07 L205.07,383.76 L208.58,384.44 L212,385.1 L215.35,385.76 L218.64,386.41 L221.9,387.06 L225.12,387.71 L228.34,388.33 L231.55,388.95 L234.76,389.54 L238,390.1 L241.25,390.64 L244.49,391.16 L247.73,391.65 L250.97,392.13 L254.21,392.59 L257.46,393.04 L260.73,393.48 L264,393.9 L267.47,394.33 L271.21,394.76 L275.07,395.18 L278.88,395.59 L282.48,395.96 L285.73,396.3 L288.45,396.58 L290.5,396.8" fill="none" stroke="#c81f26" stroke-width="2.7" stroke-linejoin="round" stroke-linecap="butt" clip-path="url(#clipb)"/>
<path d="M56.4,369.3 L59,369.5 L61.5,369 L64,368 L64,367.9 L64.77,368.07 L65.8,368.3 L67.02,368.57 L68.38,368.87 L69.81,369.18 L71.27,369.48 L72.68,369.76 L74,370 L75.25,370.2 L76.5,370.39 L77.75,370.56 L79,370.73 L80.25,370.88 L81.5,371.02 L82.75,371.16 L84,371.3 L85.25,371.44 L86.5,371.59 L87.75,371.73 L89,371.86 L90.25,371.98 L91.5,372.08 L92.75,372.16 L94,372.2 L95.25,372.21 L96.5,372.19 L97.75,372.15 L99,372.08 L100.25,372 L101.5,371.91 L102.75,371.81 L104,371.7 L105.25,371.59 L106.5,371.46 L107.75,371.33 L109,371.18 L110.25,371.02 L111.5,370.86 L112.75,370.68 L114,370.5 L115.28,370.3 L116.59,370.08 L117.93,369.84 L119.25,369.59 L120.54,369.35 L121.78,369.11 L122.94,368.9 L124,368.7 L124.96,368.53 L125.83,368.37 L126.63,368.23 L127.38,368.09 L128.07,367.97 L128.73,367.84 L129.37,367.72 L130,367.6 L130.45,367.51 L130.65,367.47 L130.72,367.46 L130.81,367.44 L131.05,367.38 L131.57,367.26 L132.51,367.04 L134,366.7 L136.12,366.22 L138.77,365.61 L141.84,364.91 L145.19,364.15 L148.7,363.35 L152.26,362.54 L155.73,361.75 L159,361 L162.1,360.29 L165.18,359.58 L168.24,358.87 L171.31,358.16 L174.41,357.44 L177.54,356.73 L180.73,356.02 L184,355.3 L187.37,354.57 L190.84,353.84 L194.37,353.09 L197.94,352.35 L201.51,351.61 L205.07,350.89 L208.58,350.18 L212,349.5 L215.35,348.83 L218.64,348.18 L221.9,347.53 L225.12,346.9 L228.34,346.29 L231.55,345.7 L234.76,345.13 L238,344.6 L241.25,344.1 L244.49,343.63 L247.73,343.18 L250.97,342.76 L254.21,342.35 L257.46,341.96 L260.73,341.58 L264,341.2 L267.47,340.82 L271.21,340.43 L275.07,340.05 L278.88,339.69 L282.48,339.35 L285.73,339.05 L288.45,338.8 L290.5,338.6" fill="none" stroke="#a6741f" stroke-width="2.7" stroke-linejoin="round" stroke-linecap="butt" clip-path="url(#clipb)"/>
<path d="M61.5,270 L63.3,455.2 L63.3,455.2 L63.47,454.75 L63.68,454.15 L63.94,453.43 L64.23,452.63 L64.54,451.8 L64.86,450.97 L65.19,450.19 L65.5,449.5 L65.81,448.86 L66.13,448.22 L66.45,447.6 L66.78,446.99 L67.12,446.42 L67.47,445.89 L67.83,445.42 L68.2,445 L68.55,444.65 L68.86,444.36 L69.17,444.13 L69.49,443.93 L69.86,443.77 L70.3,443.63 L70.83,443.51 L71.5,443.4 L71.89,443.3 L71.82,443.24 L71.6,443.2 L71.58,443.18 L72.08,443.18 L73.43,443.18 L75.96,443.19 L80,443.2 L85.81,443.21 L93.18,443.24 L101.75,443.27 L111.16,443.31 L121.05,443.36 L131.06,443.41 L140.83,443.45 L150,443.5 L158.75,443.55 L167.49,443.6 L176.23,443.66 L184.97,443.71 L193.71,443.77 L202.46,443.82 L211.23,443.86 L220,443.9 L229.27,443.93 L239.24,443.95 L249.5,443.96 L259.62,443.97 L269.2,443.98 L277.82,443.99 L285.06,443.99 L290.5,444" fill="none" stroke="#9cb9d4" stroke-width="2.5" stroke-linejoin="round" stroke-linecap="butt" clip-path="url(#clipb)"/>
<rect x="56.4" y="275.4" width="234.1" height="184.9" fill="none" stroke="#3a3a3a" stroke-width="1"/>
<text transform="translate(412.3,476.7) scale(1,1.05)" font-size="13.6" text-anchor="middle">0</text>
<line x1="454.9" y1="460.3" x2="454.9" y2="455.3" stroke="#3a3a3a" stroke-width="1"/>
<line x1="454.9" y1="275.4" x2="454.9" y2="280.4" stroke="#3a3a3a" stroke-width="1"/>
<text transform="translate(454.9,476.7) scale(1,1.05)" font-size="13.6" text-anchor="middle">30</text>
<line x1="499.2" y1="460.3" x2="499.2" y2="455.3" stroke="#3a3a3a" stroke-width="1"/>
<line x1="499.2" y1="275.4" x2="499.2" y2="280.4" stroke="#3a3a3a" stroke-width="1"/>
<text transform="translate(499.2,476.7) scale(1,1.05)" font-size="13.6" text-anchor="middle">60</text>
<line x1="543.5" y1="460.3" x2="543.5" y2="455.3" stroke="#3a3a3a" stroke-width="1"/>
<line x1="543.5" y1="275.4" x2="543.5" y2="280.4" stroke="#3a3a3a" stroke-width="1"/>
<text transform="translate(543.5,476.7) scale(1,1.05)" font-size="13.6" text-anchor="middle">90</text>
<line x1="587.8" y1="460.3" x2="587.8" y2="455.3" stroke="#3a3a3a" stroke-width="1"/>
<line x1="587.8" y1="275.4" x2="587.8" y2="280.4" stroke="#3a3a3a" stroke-width="1"/>
<text transform="translate(587.8,476.7) scale(1,1.05)" font-size="13.6" text-anchor="middle">120</text>
<line x1="632.1" y1="460.3" x2="632.1" y2="455.3" stroke="#3a3a3a" stroke-width="1"/>
<line x1="632.1" y1="275.4" x2="632.1" y2="280.4" stroke="#3a3a3a" stroke-width="1"/>
<text transform="translate(632.1,476.7) scale(1,1.05)" font-size="13.6" text-anchor="middle">150</text>
<text transform="translate(529.3,497.7) scale(1,1.05)" font-size="13.4" text-anchor="middle">Time (days)</text>
<text transform="translate(404.7,464.9) scale(1,1.05)" font-size="13.6" text-anchor="end">0</text>
<line x1="412.3" y1="429.48" x2="417.3" y2="429.48" stroke="#3a3a3a" stroke-width="1"/>
<text transform="translate(404.7,434.08) scale(1,1.05)" font-size="13.6" text-anchor="end">100</text>
<line x1="412.3" y1="398.67" x2="417.3" y2="398.67" stroke="#3a3a3a" stroke-width="1"/>
<text transform="translate(404.7,403.27) scale(1,1.05)" font-size="13.6" text-anchor="end">200</text>
<line x1="412.3" y1="367.85" x2="417.3" y2="367.85" stroke="#3a3a3a" stroke-width="1"/>
<text transform="translate(404.7,372.45) scale(1,1.05)" font-size="13.6" text-anchor="end">300</text>
<line x1="412.3" y1="337.03" x2="417.3" y2="337.03" stroke="#3a3a3a" stroke-width="1"/>
<text transform="translate(404.7,341.63) scale(1,1.05)" font-size="13.6" text-anchor="end">400</text>
<line x1="412.3" y1="306.22" x2="417.3" y2="306.22" stroke="#3a3a3a" stroke-width="1"/>
<text transform="translate(404.7,310.82) scale(1,1.05)" font-size="13.6" text-anchor="end">500</text>
<text transform="translate(404.7,280) scale(1,1.05)" font-size="13.6" text-anchor="end">600</text>
<text transform="translate(653.3,464.9) scale(1,1.05)" font-size="13.6" text-anchor="start">0</text>
<line x1="646.3" y1="423.32" x2="641.3" y2="423.32" stroke="#3a3a3a" stroke-width="1"/>
<text transform="translate(653.3,427.92) scale(1,1.05)" font-size="13.6" text-anchor="start">1</text>
<line x1="646.3" y1="386.34" x2="641.3" y2="386.34" stroke="#3a3a3a" stroke-width="1"/>
<text transform="translate(653.3,390.94) scale(1,1.05)" font-size="13.6" text-anchor="start">2</text>
<line x1="646.3" y1="349.36" x2="641.3" y2="349.36" stroke="#3a3a3a" stroke-width="1"/>
<text transform="translate(653.3,353.96) scale(1,1.05)" font-size="13.6" text-anchor="start">3</text>
<line x1="646.3" y1="312.38" x2="641.3" y2="312.38" stroke="#3a3a3a" stroke-width="1"/>
<text transform="translate(653.3,316.98) scale(1,1.05)" font-size="13.6" text-anchor="start">4</text>
<text transform="translate(653.3,280) scale(1,1.05)" font-size="13.6" text-anchor="start">5</text>
<path d="M412.3,448.15 L413.3,448.61 L414.31,449.03 L415.31,449.41 L416.32,449.74 L417.32,450.03 L418.33,450.29 L419.33,450.52 L420.33,450.71 L421.34,450.87 L422.34,451.01 L423.35,451.13 L424.35,451.22 L425.36,451.3 L426.36,451.36 L427.36,451.41 L428.37,451.44 L429.37,451.47 L430.38,451.49 L431.38,451.51 L432.39,451.52 L433.39,451.53 L434.39,451.54 L435.4,451.54 L436.4,451.54 L437.41,451.54 L438.41,451.53 L439.42,451.52 L440.42,451.51 L441.42,451.49 L442.43,451.47 L443.43,451.45 L444.44,451.42 L445.44,451.39 L446.45,451.36 L447.45,451.33 L448.45,451.29 L449.46,451.26 L450.46,451.22 L451.47,451.17 L452.47,451.13 L453.48,451.08 L454.48,451.03 L455.48,450.98 L456.49,450.93 L457.49,450.88 L458.5,450.82 L459.5,450.76 L460.51,450.71 L461.51,450.65 L462.51,450.59 L463.52,450.52 L464.52,450.46 L465.53,450.4 L466.53,450.33 L467.54,450.27 L468.54,450.2 L469.54,450.14 L470.55,450.07 L471.55,450 L472.56,449.94 L473.56,449.87 L474.57,449.8 L475.57,449.73 L476.57,449.67 L477.58,449.6 L478.58,449.53 L479.59,449.47 L480.59,449.4 L481.6,449.33 L482.6,449.27 L483.6,449.2 L484.61,449.14 L485.61,449.08 L486.62,449.01 L487.62,448.95 L488.63,448.89 L489.63,448.83 L490.63,448.77 L491.64,448.71 L492.64,448.65 L493.65,448.59 L494.65,448.53 L495.66,448.47 L496.66,448.41 L497.66,448.36 L498.67,448.3 L499.67,448.24 L500.68,448.19 L501.68,448.13 L502.69,448.08 L503.69,448.02 L504.69,447.97 L505.7,447.91 L506.7,447.86 L507.71,447.81 L508.71,447.76 L509.72,447.7 L510.72,447.65 L511.72,447.6 L512.73,447.55 L513.73,447.5 L514.74,447.45 L515.74,447.4 L516.75,447.35 L517.75,447.31 L518.75,447.26 L519.76,447.21 L520.76,447.16 L521.77,447.12 L522.77,447.07 L523.78,447.03 L524.78,446.98 L525.78,446.94 L526.79,446.89 L527.79,446.85 L528.8,446.81 L529.8,446.76 L530.81,446.72 L531.81,446.68 L532.82,446.64 L533.82,446.59 L534.82,446.55 L535.83,446.51 L536.83,446.47 L537.84,446.43 L538.84,446.39 L539.85,446.35 L540.85,446.32 L541.85,446.28 L542.86,446.24 L543.86,446.2 L544.87,446.16 L545.87,446.13 L546.88,446.09 L547.88,446.06 L548.88,446.02 L549.89,445.98 L550.89,445.95 L551.9,445.91 L552.9,445.88 L553.91,445.85 L554.91,445.81 L555.91,445.78 L556.92,445.75 L557.92,445.72 L558.93,445.68 L559.93,445.65 L560.94,445.62 L561.94,445.59 L562.94,445.56 L563.95,445.53 L564.95,445.5 L565.96,445.47 L566.96,445.44 L567.97,445.41 L568.97,445.38 L569.97,445.35 L570.98,445.33 L571.98,445.3 L572.99,445.27 L573.99,445.24 L575,445.22 L576,445.19 L577,445.16 L578.01,445.14 L579.01,445.11 L580.02,445.09 L581.02,445.06 L582.03,445.04 L583.03,445.01 L584.03,444.99 L585.04,444.97 L586.04,444.94 L587.05,444.92 L588.05,444.9 L589.06,444.87 L590.06,444.85 L591.06,444.83 L592.07,444.81 L593.07,444.79 L594.08,444.76 L595.08,444.74 L596.09,444.72 L597.09,444.7 L598.09,444.68 L599.1,444.66 L600.1,444.64 L601.11,444.62 L602.11,444.6 L603.12,444.59 L604.12,444.57 L605.12,444.55 L606.13,444.53 L607.13,444.51 L608.14,444.49 L609.14,444.48 L610.15,444.46 L611.15,444.44 L612.15,444.43 L613.16,444.41 L614.16,444.39 L615.17,444.38 L616.17,444.36 L617.18,444.35 L618.18,444.33 L619.18,444.32 L620.19,444.3 L621.19,444.29 L622.2,444.27 L623.2,444.26 L624.21,444.24 L625.21,444.23 L626.21,444.22 L627.22,444.2 L628.22,444.19 L629.23,444.18 L630.23,444.16 L631.24,444.15 L632.24,444.14 L633.24,444.13 L634.25,444.11 L635.25,444.1 L636.26,444.09 L637.26,444.08 L638.27,444.07 L639.27,444.06 L640.27,444.04 L641.28,444.03 L642.28,444.02 L643.29,444.01 L644.29,444 L645.3,443.99 L646.3,443.98" fill="none" stroke="#a6741f" stroke-width="2.7" stroke-linejoin="round" stroke-linecap="butt" clip-path="url(#clipd)"/>
<path d="M412.3,372.24 L413.3,373.55 L414.31,374.79 L415.31,375.95 L416.32,377.04 L417.32,378.07 L418.33,379.04 L419.33,379.95 L420.33,380.81 L421.34,381.63 L422.34,382.4 L423.35,383.13 L424.35,383.82 L425.36,384.49 L426.36,385.12 L427.36,385.74 L428.37,386.34 L429.37,386.92 L430.38,387.5 L431.38,388.07 L432.39,388.63 L433.39,389.2 L434.39,389.75 L435.4,390.31 L436.4,390.86 L437.41,391.41 L438.41,391.95 L439.42,392.49 L440.42,393.02 L441.42,393.55 L442.43,394.06 L443.43,394.58 L444.44,395.08 L445.44,395.58 L446.45,396.08 L447.45,396.56 L448.45,397.03 L449.46,397.5 L450.46,397.96 L451.47,398.41 L452.47,398.85 L453.48,399.28 L454.48,399.7 L455.48,400.12 L456.49,400.52 L457.49,400.92 L458.5,401.31 L459.5,401.69 L460.51,402.07 L461.51,402.44 L462.51,402.8 L463.52,403.16 L464.52,403.51 L465.53,403.85 L466.53,404.2 L467.54,404.53 L468.54,404.87 L469.54,405.2 L470.55,405.52 L471.55,405.84 L472.56,406.16 L473.56,406.47 L474.57,406.77 L475.57,407.08 L476.57,407.38 L477.58,407.67 L478.58,407.96 L479.59,408.25 L480.59,408.53 L481.6,408.81 L482.6,409.08 L483.6,409.35 L484.61,409.62 L485.61,409.88 L486.62,410.14 L487.62,410.4 L488.63,410.65 L489.63,410.89 L490.63,411.14 L491.64,411.38 L492.64,411.62 L493.65,411.85 L494.65,412.08 L495.66,412.3 L496.66,412.53 L497.66,412.74 L498.67,412.96 L499.67,413.17 L500.68,413.38 L501.68,413.59 L502.69,413.79 L503.69,413.99 L504.69,414.18 L505.7,414.37 L506.7,414.56 L507.71,414.75 L508.71,414.93 L509.72,415.11 L510.72,415.29 L511.72,415.46 L512.73,415.63 L513.73,415.8 L514.74,415.96 L515.74,416.12 L516.75,416.28 L517.75,416.44 L518.75,416.59 L519.76,416.74 L520.76,416.89 L521.77,417.03 L522.77,417.17 L523.78,417.31 L524.78,417.45 L525.78,417.58 L526.79,417.72 L527.79,417.84 L528.8,417.97 L529.8,418.09 L530.81,418.22 L531.81,418.34 L532.82,418.45 L533.82,418.57 L534.82,418.68 L535.83,418.79 L536.83,418.9 L537.84,419 L538.84,419.11 L539.85,419.21 L540.85,419.31 L541.85,419.4 L542.86,419.5 L543.86,419.59 L544.87,419.68 L545.87,419.77 L546.88,419.86 L547.88,419.94 L548.88,420.02 L549.89,420.11 L550.89,420.19 L551.9,420.26 L552.9,420.34 L553.91,420.41 L554.91,420.49 L555.91,420.56 L556.92,420.63 L557.92,420.7 L558.93,420.76 L559.93,420.83 L560.94,420.89 L561.94,420.95 L562.94,421.01 L563.95,421.07 L564.95,421.13 L565.96,421.19 L566.96,421.24 L567.97,421.3 L568.97,421.35 L569.97,421.4 L570.98,421.45 L571.98,421.5 L572.99,421.55 L573.99,421.59 L575,421.64 L576,421.69 L577,421.73 L578.01,421.77 L579.01,421.82 L580.02,421.86 L581.02,421.9 L582.03,421.94 L583.03,421.98 L584.03,422.02 L585.04,422.05 L586.04,422.09 L587.05,422.13 L588.05,422.16 L589.06,422.2 L590.06,422.23 L591.06,422.27 L592.07,422.3 L593.07,422.33 L594.08,422.36 L595.08,422.4 L596.09,422.43 L597.09,422.46 L598.09,422.49 L599.1,422.52 L600.1,422.55 L601.11,422.58 L602.11,422.61 L603.12,422.64 L604.12,422.68 L605.12,422.71 L606.13,422.74 L607.13,422.77 L608.14,422.8 L609.14,422.83 L610.15,422.86 L611.15,422.89 L612.15,422.92 L613.16,422.95 L614.16,422.98 L615.17,423.01 L616.17,423.04 L617.18,423.07 L618.18,423.11 L619.18,423.14 L620.19,423.17 L621.19,423.2 L622.2,423.24 L623.2,423.27 L624.21,423.31 L625.21,423.34 L626.21,423.38 L627.22,423.42 L628.22,423.45 L629.23,423.49 L630.23,423.53 L631.24,423.57 L632.24,423.61 L633.24,423.65 L634.25,423.69 L635.25,423.74 L636.26,423.78 L637.26,423.83 L638.27,423.87 L639.27,423.92 L640.27,423.97 L641.28,424.01 L642.28,424.06 L643.29,424.12 L644.29,424.17 L645.3,424.22 L646.3,424.28" fill="none" stroke="#1a20b6" stroke-width="2.7" stroke-linejoin="round" stroke-linecap="butt" clip-path="url(#clipd)"/>
<path d="M412.3,301.45 L413.3,300.82 L414.31,300.23 L415.31,299.69 L416.32,299.19 L417.32,298.73 L418.33,298.3 L419.33,297.91 L420.33,297.55 L421.34,297.21 L422.34,296.9 L423.35,296.61 L424.35,296.33 L425.36,296.07 L426.36,295.82 L427.36,295.59 L428.37,295.36 L429.37,295.16 L430.38,294.96 L431.38,294.78 L432.39,294.6 L433.39,294.44 L434.39,294.29 L435.4,294.15 L436.4,294.01 L437.41,293.89 L438.41,293.77 L439.42,293.67 L440.42,293.57 L441.42,293.47 L442.43,293.39 L443.43,293.31 L444.44,293.23 L445.44,293.16 L446.45,293.1 L447.45,293.03 L448.45,292.98 L449.46,292.92 L450.46,292.87 L451.47,292.82 L452.47,292.78 L453.48,292.73 L454.48,292.69 L455.48,292.64 L456.49,292.6 L457.49,292.56 L458.5,292.51 L459.5,292.47 L460.51,292.43 L461.51,292.39 L462.51,292.35 L463.52,292.31 L464.52,292.27 L465.53,292.24 L466.53,292.2 L467.54,292.16 L468.54,292.13 L469.54,292.09 L470.55,292.06 L471.55,292.02 L472.56,291.99 L473.56,291.96 L474.57,291.92 L475.57,291.89 L476.57,291.86 L477.58,291.83 L478.58,291.8 L479.59,291.77 L480.59,291.74 L481.6,291.71 L482.6,291.69 L483.6,291.66 L484.61,291.63 L485.61,291.6 L486.62,291.58 L487.62,291.55 L488.63,291.53 L489.63,291.51 L490.63,291.48 L491.64,291.46 L492.64,291.44 L493.65,291.41 L494.65,291.39 L495.66,291.37 L496.66,291.35 L497.66,291.33 L498.67,291.31 L499.67,291.29 L500.68,291.27 L501.68,291.26 L502.69,291.24 L503.69,291.22 L504.69,291.21 L505.7,291.19 L506.7,291.17 L507.71,291.16 L508.71,291.14 L509.72,291.13 L510.72,291.12 L511.72,291.1 L512.73,291.09 L513.73,291.08 L514.74,291.07 L515.74,291.05 L516.75,291.04 L517.75,291.03 L518.75,291.02 L519.76,291.01 L520.76,291 L521.77,290.99 L522.77,290.99 L523.78,290.98 L524.78,290.97 L525.78,290.96 L526.79,290.96 L527.79,290.95 L528.8,290.94 L529.8,290.94 L530.81,290.93 L531.81,290.93 L532.82,290.92 L533.82,290.92 L534.82,290.91 L535.83,290.91 L536.83,290.91 L537.84,290.9 L538.84,290.9 L539.85,290.9 L540.85,290.9 L541.85,290.9 L542.86,290.9 L543.86,290.9 L544.87,290.9 L545.87,290.9 L546.88,290.9 L547.88,290.9 L548.88,290.9 L549.89,290.9 L550.89,290.9 L551.9,290.9 L552.9,290.91 L553.91,290.91 L554.91,290.91 L555.91,290.91 L556.92,290.92 L557.92,290.92 L558.93,290.93 L559.93,290.93 L560.94,290.94 L561.94,290.94 L562.94,290.95 L563.95,290.95 L564.95,290.96 L565.96,290.96 L566.96,290.97 L567.97,290.98 L568.97,290.98 L569.97,290.99 L570.98,291 L571.98,291.01 L572.99,291.01 L573.99,291.02 L575,291.03 L576,291.04 L577,291.05 L578.01,291.06 L579.01,291.06 L580.02,291.07 L581.02,291.08 L582.03,291.09 L583.03,291.1 L584.03,291.11 L585.04,291.12 L586.04,291.14 L587.05,291.15 L588.05,291.16 L589.06,291.17 L590.06,291.18 L591.06,291.19 L592.07,291.2 L593.07,291.22 L594.08,291.23 L595.08,291.24 L596.09,291.25 L597.09,291.27 L598.09,291.28 L599.1,291.29 L600.1,291.3 L601.11,291.32 L602.11,291.33 L603.12,291.34 L604.12,291.36 L605.12,291.37 L606.13,291.39 L607.13,291.4 L608.14,291.41 L609.14,291.43 L610.15,291.44 L611.15,291.46 L612.15,291.47 L613.16,291.49 L614.16,291.5 L615.17,291.52 L616.17,291.53 L617.18,291.55 L618.18,291.56 L619.18,291.58 L620.19,291.59 L621.19,291.61 L622.2,291.62 L623.2,291.64 L624.21,291.65 L625.21,291.67 L626.21,291.69 L627.22,291.7 L628.22,291.72 L629.23,291.73 L630.23,291.75 L631.24,291.77 L632.24,291.78 L633.24,291.8 L634.25,291.81 L635.25,291.83 L636.26,291.85 L637.26,291.86 L638.27,291.88 L639.27,291.9 L640.27,291.91 L641.28,291.93 L642.28,291.94 L643.29,291.96 L644.29,291.98 L645.3,291.99 L646.3,292.01" fill="none" stroke="#c81f26" stroke-width="2.7" stroke-linejoin="round" stroke-linecap="butt" clip-path="url(#clipd)"/>
<path d="M412.3,293.6 L414.4,293.6 L414.4,293.6 L414.48,295.34 L414.58,297.68 L414.71,300.46 L414.85,303.55 L415,306.79 L415.14,310.04 L415.28,313.16 L415.4,316 L415.51,318.45 L415.6,320.61 L415.7,322.62 L415.79,324.65 L415.88,326.85 L415.98,329.37 L416.08,332.37 L416.2,336 L416.33,340.38 L416.48,345.41 L416.63,350.92 L416.79,356.75 L416.95,362.74 L417.11,368.72 L417.26,374.53 L417.4,380 L417.53,385.22 L417.66,390.38 L417.78,395.49 L417.9,400.53 L418.01,405.5 L418.12,410.4 L418.21,415.24 L418.3,420 L418.38,424.9 L418.44,430.04 L418.5,435.24 L418.56,440.3 L418.6,445.05 L418.64,449.31 L418.67,452.88 L418.7,455.6 L418.7,455.6 L420.5,454.9 L440,454.6 L440,454.6 L446.76,454.57 L455.56,454.53 L466,454.48 L477.73,454.43 L490.37,454.37 L503.54,454.31 L516.88,454.25 L530,454.2 L544.07,454.15 L559.95,454.09 L576.8,454.03 L593.77,453.97 L610.05,453.92 L624.79,453.87 L637.15,453.83 L646.3,453.8" fill="none" stroke="#9cb9d4" stroke-width="2.7" stroke-linejoin="round" stroke-linecap="butt" clip-path="url(#clipd)"/>
<rect x="412.3" y="275.4" width="234" height="184.9" fill="none" stroke="#3a3a3a" stroke-width="1"/>
<line x1="565.2" y1="325.6" x2="591.1" y2="325.6" stroke="#c81f26" stroke-width="2.8"/>
<text transform="translate(597,331) scale(1,1.05)" font-size="13.6" text-anchor="start">S<tspan font-size="9" dy="3.2">O</tspan></text>
<line x1="565.2" y1="346.3" x2="591.1" y2="346.3" stroke="#a6741f" stroke-width="2.8"/>
<text transform="translate(597,351.3) scale(1,1.05)" font-size="13.6" text-anchor="start">S<tspan font-size="9" dy="3.2">R</tspan></text>
<line x1="565.2" y1="367" x2="591.1" y2="367" stroke="#1a20b6" stroke-width="2.8"/>
<text transform="translate(597,371.8) scale(1,1.05)" font-size="13.6" text-anchor="start">O</text>
<line x1="565.2" y1="387.7" x2="591.1" y2="387.7" stroke="#9cb9d4" stroke-width="2.8"/>
<text transform="translate(597,391.8) scale(1,1.05)" font-size="13.6" text-anchor="start">P</text>
<text x="0" y="0" font-size="13.4" text-anchor="middle" transform="translate(15.6,103.7) rotate(-90) scale(1,1.05)">Population density</text>
<text x="0" y="0" font-size="13.4" text-anchor="middle" transform="translate(371.6,103.7) rotate(-90) scale(1,1.05)">Population density</text>
<text x="0" y="0" font-size="13.4" text-anchor="middle" transform="translate(12.2,367.7) rotate(-90) scale(1,1.05)">Substrate (µM)</text>
<text x="0" y="0" font-size="13.4" text-anchor="middle" transform="translate(368.2,367.7) rotate(-90) scale(1,1.05)">Substrate (µM)</text>
<text x="0" y="0" font-size="13.4" text-anchor="middle" transform="translate(326.8,367.1) rotate(-90) scale(1,1.05)">P concentration (µM)</text>
<text x="0" y="0" font-size="13.4" text-anchor="middle" transform="translate(681.5,367.1) rotate(-90) scale(1,1.05)">P concentration (µM)</text>
<text transform="translate(0.6,15.7) scale(1,1.05)" font-size="18" text-anchor="start" font-weight="bold" stroke="#000" stroke-width="0.35">a</text>
<text transform="translate(357.2,15.9) scale(1,1.05)" font-size="18" text-anchor="start" font-weight="bold" stroke="#000" stroke-width="0.35">c</text>
<text transform="translate(0.2,274.2) scale(1,1.05)" font-size="18" text-anchor="start" font-weight="bold" stroke="#000" stroke-width="0.35">b</text>
<text transform="translate(357.4,274.6) scale(1,1.05)" font-size="18.6" text-anchor="start" font-weight="bold" stroke="#000" stroke-width="0.35">d</text>
</svg>
</body></html>
